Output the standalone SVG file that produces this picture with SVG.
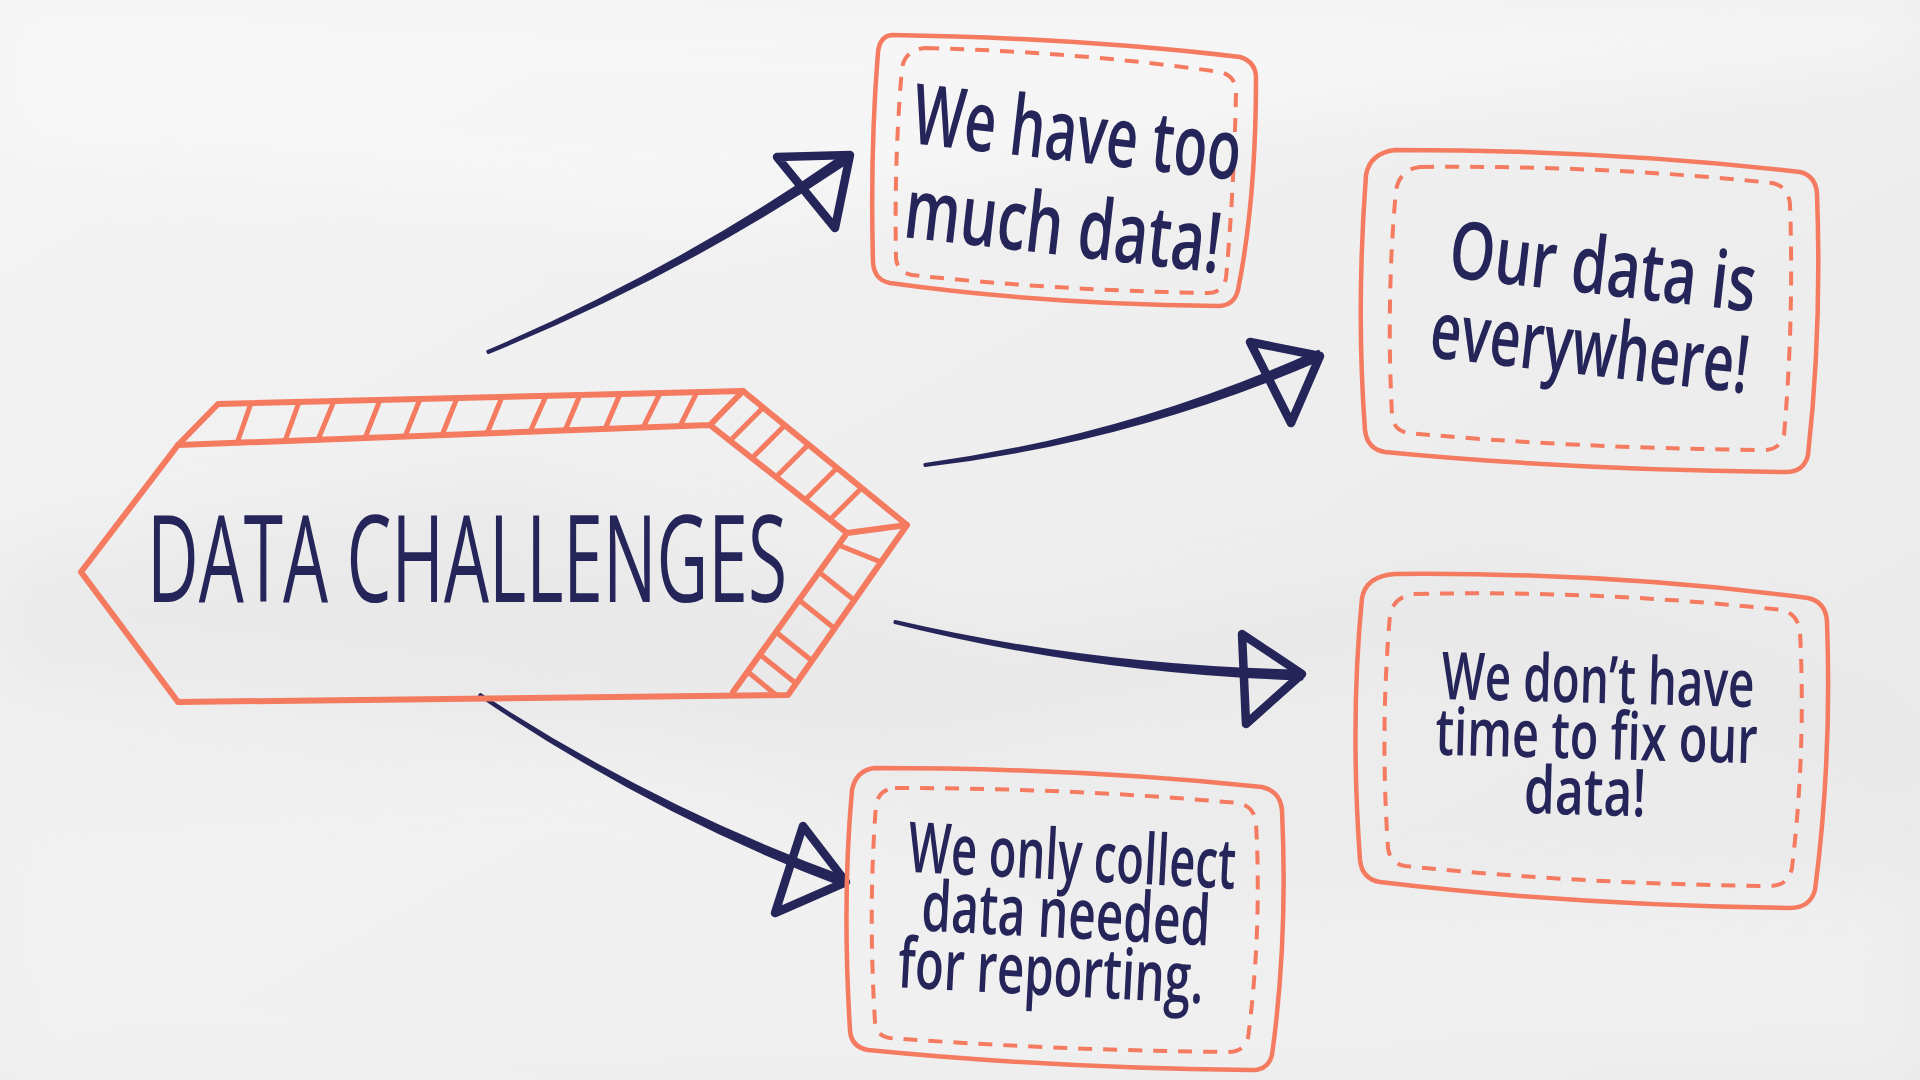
<svg xmlns="http://www.w3.org/2000/svg" width="1920" height="1080" viewBox="0 0 1920 1080">
<defs>
<linearGradient id="bg" x1="0" y1="0" x2="1" y2="1">
<stop offset="0" stop-color="#f4f4f4"/>
<stop offset="0.5" stop-color="#eeeeee"/>
<stop offset="1" stop-color="#e9e9ea"/>
</linearGradient>
<filter id="soft" x="-20%" y="-20%" width="140%" height="140%"><feGaussianBlur stdDeviation="30"/></filter>
<style>
.coral{fill:none;stroke:#f47a60;stroke-linecap:round;stroke-linejoin:round}
.hex{stroke-width:6}
.hatch{stroke-width:5}
.outer{stroke-width:4.5}
.dash{stroke-width:4;stroke-dasharray:14 11;stroke-linecap:butt}
.shaft{fill:#262559;stroke:#262559;stroke-width:3;stroke-linejoin:round;stroke-linecap:round}
.head{fill:none;stroke:#262559;stroke-width:8.5;stroke-linejoin:round;stroke-linecap:round}
.hand{font-family:'Open Sans','Noto Sans','Liberation Sans',sans-serif;font-weight:600;fill:#262559}
.title{font-family:'Open Sans','Liberation Sans',sans-serif;font-weight:500;fill:#262559}
</style>
</defs>
<rect width="1920" height="1080" fill="url(#bg)"/>
<g filter="url(#soft)" opacity="0.6">
<path d="M0,150 L700,230 L1300,120 L1920,60 L1920,0 L0,0 Z" fill="#f9f9f9"/>
<path d="M0,560 L500,480 L1000,640 L1500,560 L1920,700 L1920,780 L1400,660 L900,760 L0,680 Z" fill="#e6e6e7"/>
<path d="M0,820 L600,760 L1100,900 L1920,880 L1920,1080 L0,1080 Z" fill="#f3f3f3"/>
</g>

<g id="connectors">
<g id="arrow-1">
<path class="shaft" d="M488.2,352.5 Q679.2,275.2 850.3,160.3 L845.7,153.7 Q676.8,270.8 487.8,351.5 Z"/>
<path class="head" d="M777,157 L850,155 L835,228 Z"/>
</g>
<g id="arrow-2">
<path class="shaft" d="M925.1,465.5 Q1131.2,441.3 1321.6,358.7 L1318.4,351.3 Q1129.8,436.5 924.9,464.5 Z"/>
<path class="head" d="M1250,342 L1320,356 L1291,423 Z"/>
</g>
<g id="arrow-3">
<path class="shaft" d="M894.9,622.5 Q1095.4,672.8 1301.9,679 L1302.1,671 Q1096,667.8 895.1,621.5 Z"/>
<path class="head" d="M1242,634 L1302,674 L1246,724 Z"/>
</g>
<g id="arrow-4">
<path class="shaft" d="M479.7,695.4 Q650.5,812.1 843.6,885.7 L846.4,878.3 Q652.7,807.7 480.3,694.6 Z"/>
<path class="head" d="M803,826 L846,882 L775,913 Z"/>
</g>
</g>

<g id="node-title">
<path class="coral hex" d="M81,572 L178,445 L218,404 L743,391 L907,525 L788,695 L178,702 Z"/>
<path class="coral hex" d="M178,445 L710,425 L847,533 L733,692 M847,533 L907,525 M710,425 L743,391"/>
<path class="coral hatch" d="M237,443.3 L251,403.2 M285,441 L299,402 M318,439.8 L334,401.1 M365,438.1 L380,400 M405,436.6 L420,399 M442,435.2 L457,398.1 M487,433.5 L502,397 M530,431.9 L546,395.9 M565,430.5 L580,395 M605,429 L620,394 M643,427.6 L660,393.4 M680,426.2 L697,392.1"/>
<path class="coral hatch" d="M730,440.8 L763.2,407.6 M752,458.1 L784.9,425.2 M776,477 L808.5,444.5 M805,499.9 L837,467.9 M830,519.6 L861.6,488"/>
<path class="coral hatch" d="M838.4,545 L881.1,562.1 M819,572 L854.3,600.2 M799,600 L834.6,628.5 M776,632 L812,660.8 M760.5,655 L796.1,683.5 M748,672 L775,694"/>
<text class="title" x="147" y="602" font-size="120" textLength="640" lengthAdjust="spacingAndGlyphs">DATA CHALLENGES</text>
</g>

<g id="node-box1">
<path class="coral outer" d="M892,35 Q1080,38 1240,57 Q1256,62 1256,78 Q1256,200 1238,290 Q1234,306 1218,306 Q1040,304 890,283 Q874,280 873,262 Q870,150 878,52 Q880,36 892,35 Z"/>
<path class="coral dash" d="M925,48 Q1080,52 1220,72 Q1236,76 1236,92 Q1234,190 1226,278 Q1222,294 1206,293 Q1050,290 912,275 Q897,272 896,258 Q894,160 902,68 Q905,50 925,48 Z"/>
<g transform="rotate(6.5 910 143)">
<text class="hand" x="910" y="143" font-size="84" textLength="330" lengthAdjust="spacingAndGlyphs">We have too</text>
<text class="hand" x="912.7" y="237.3" font-size="84" textLength="318" lengthAdjust="spacingAndGlyphs">much data!</text>
</g>
</g>

<g id="node-box2">
<path class="coral outer" d="M1395,150 Q1610,150 1800,172 Q1816,176 1817,194 Q1822,330 1808,455 Q1804,472 1786,472 Q1570,470 1385,452 Q1367,449 1365,430 Q1356,310 1366,175 Q1370,153 1395,150 Z"/>
<path class="coral dash" d="M1420,167 Q1600,165 1772,183 Q1788,186 1790,204 Q1794,320 1784,435 Q1780,450 1764,450 Q1570,448 1408,433 Q1393,430 1392,415 Q1386,300 1396,190 Q1400,169 1420,167 Z"/>
<g transform="rotate(6.5 1447 277)">
<text class="hand" x="1447" y="277" font-size="80" textLength="308" lengthAdjust="spacingAndGlyphs">Our data is</text>
<text class="hand" x="1437.2" y="358.6" font-size="80" textLength="320" lengthAdjust="spacingAndGlyphs">everywhere!</text>
</g>
</g>

<g id="node-box3">
<path class="coral outer" d="M1395,574 Q1610,572 1808,598 Q1826,602 1827,622 Q1832,760 1815,890 Q1810,908 1790,908 Q1570,905 1380,882 Q1362,879 1360,860 Q1350,720 1362,598 Q1366,576 1395,574 Z"/>
<path class="coral dash" d="M1415,594 Q1600,590 1782,610 Q1798,614 1800,632 Q1806,750 1792,868 Q1788,886 1770,886 Q1580,884 1405,866 Q1390,863 1388,848 Q1380,730 1390,615 Q1394,596 1415,594 Z"/>
<g transform="rotate(1.5 1596 757)" text-anchor="middle">
<text class="hand" x="1596" y="703" font-size="66" textLength="313" lengthAdjust="spacingAndGlyphs">We don’t have</text>
<text class="hand" x="1596" y="759" font-size="66" textLength="322" lengthAdjust="spacingAndGlyphs">time to fix our</text>
<text class="hand" x="1586" y="815" font-size="66" textLength="122" lengthAdjust="spacingAndGlyphs">data!</text>
</g>
</g>

<g id="node-box4">
<path class="coral outer" d="M875,768 Q1080,768 1262,787 Q1280,791 1282,810 Q1288,940 1272,1055 Q1268,1071 1250,1070 Q1050,1068 868,1050 Q851,1047 850,1030 Q842,900 852,790 Q856,770 875,768 Z"/>
<path class="coral dash" d="M895,788 Q1070,788 1238,803 Q1254,806 1256,823 Q1262,930 1248,1038 Q1244,1052 1228,1052 Q1050,1050 890,1038 Q876,1036 875,1022 Q868,910 876,805 Q879,789 895,788 Z"/>
<g transform="rotate(3 1065 935)" text-anchor="middle">
<text class="hand" x="1068" y="880" font-size="70" textLength="328" lengthAdjust="spacingAndGlyphs">We only collect</text>
<text class="hand" x="1065" y="938" font-size="70" textLength="289" lengthAdjust="spacingAndGlyphs">data needed</text>
<text class="hand" x="1053" y="996" font-size="70" textLength="306" lengthAdjust="spacingAndGlyphs">for reporting.</text>
</g>
</g>
</svg>
